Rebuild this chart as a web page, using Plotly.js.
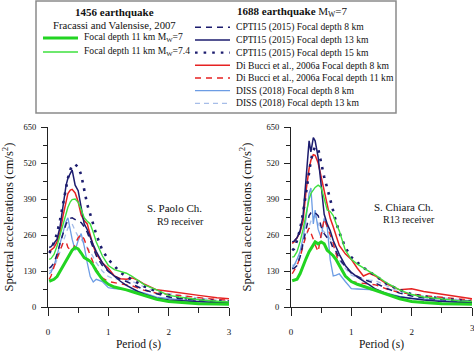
<!DOCTYPE html>
<html>
<head>
<meta charset="utf-8">
<script src="https://cdn.plot.ly/plotly-3.0.1.min.js"></script>
<style>html,body{margin:0;padding:0;background:#fff;}#chart{width:474px;height:351px;}</style>
</head>
<body>
<div id="chart"></div>
<script>
// Periods (s)
const periods = [0.02,0.05,0.1,0.15,0.2,0.25,0.3,0.33,0.37,0.4,0.45,0.5,0.55,0.6,0.65,0.7,0.75,0.8,0.9,1.0,1.1,1.2,1.3,1.4,1.5,1.6,1.8,2.0,2.2,2.5,2.8,3.0];

// S. Paolo Ch. — R9 receiver (cm/s^2)
const r9_fv_mw7   = [93,95,100,110,130,150,170,180,195,205,215,210,195,178,172,165,150,130,100,82,72,68,62,55,48,40,28,20,16,12,11,10];
const r9_fv_mw74  = [172,175,190,220,260,300,340,360,380,388,390,378,352,322,310,300,270,235,185,150,135,128,122,110,95,80,62,42,35,26,21,18];
const r9_cpti8    = [140,145,160,190,230,270,300,310,320,322,315,310,305,290,270,240,210,185,150,128,112,100,92,82,72,62,48,36,30,24,20,18];
const r9_cpti13   = [215,218,230,245,290,370,440,465,480,495,440,420,360,300,280,250,225,200,160,130,110,93,78,65,55,46,32,25,22,19,16,15];
const r9_cpti15   = [195,205,235,265,315,375,435,465,495,512,515,505,478,425,370,335,300,262,205,172,148,125,110,98,85,74,56,42,33,26,22,20];
const r9_dib8     = [200,205,215,235,270,330,385,410,422,425,412,380,332,312,300,255,220,192,160,140,112,102,100,105,95,82,62,57,52,42,33,30];
const r9_dib11    = [100,112,145,178,205,232,235,215,205,200,228,250,262,245,215,185,160,135,105,92,88,86,82,76,68,60,50,45,40,32,27,25];
const r9_diss8    = [120,125,150,185,230,270,310,322,275,245,205,240,265,220,160,110,90,100,92,70,66,65,63,60,55,50,36,30,26,20,17,15];
const r9_diss13   = [130,132,142,170,200,235,265,285,295,300,275,255,245,230,215,200,180,160,130,110,102,100,97,92,82,72,55,48,42,32,25,22];

// S. Chiara Ch. — R13 receiver (cm/s^2)
const r13_fv_mw7  = [95,97,100,120,150,175,200,210,225,235,228,235,228,205,195,185,170,152,112,92,82,75,68,60,52,45,30,20,16,12,11,10];
const r13_fv_mw74 = [180,182,200,235,280,340,390,410,425,432,440,432,392,350,345,330,300,275,205,172,155,140,128,115,100,85,62,45,36,28,22,20];
const r13_cpti8   = [138,140,150,180,230,280,330,340,345,340,330,290,265,250,240,210,200,175,145,122,110,100,92,86,76,66,50,40,33,26,22,20];
const r13_cpti13  = [235,238,250,275,330,450,600,560,612,600,540,440,335,300,275,240,215,190,150,125,108,95,80,65,55,46,36,30,25,20,17,15];
const r13_cpti15  = [205,210,240,280,340,420,500,530,565,578,572,520,470,430,385,340,305,270,215,180,160,142,128,112,95,82,62,46,38,30,24,20];
const r13_dib8    = [230,235,250,270,310,420,500,530,550,548,520,470,420,360,320,290,255,222,192,172,140,112,122,112,96,82,62,66,56,46,37,30];
const r13_dib11   = [120,130,150,180,220,260,285,270,245,225,200,262,318,290,260,230,190,152,112,92,88,86,82,80,72,64,52,46,41,35,28,25];
const r13_diss8   = [140,150,172,200,250,320,410,430,300,350,280,250,320,290,170,112,115,120,92,66,65,65,63,60,55,50,38,32,28,22,18,15];
const r13_diss13  = [150,152,160,185,220,260,290,310,325,330,300,282,272,260,245,220,195,170,140,115,106,100,97,95,85,75,55,45,40,32,26,22];

// Labels
const seriesNames = [
  'DISS (2018) Focal depth 13 km',
  'DISS (2018) Focal depth 8 km',
  'Di Bucci et al., 2006a Focal depth 11 km',
  'Di Bucci et al., 2006a Focal depth 8 km',
  'CPTI15 (2015) Focal depth 8 km',
  'CPTI15 (2015) Focal depth 13 km',
  'CPTI15 (2015) Focal depth 15 km',
  'Focal depth 11 km M<sub>W</sub>=7.4',
  'Focal depth 11 km M<sub>W</sub>=7'
];
const panelNames = ['S. Paolo Ch.', 'S. Chiara Ch.'];
const receiverNames = ['R9 receiver', 'R13 receiver'];
const xTitle = 'Period (s)';
const yTitle = 'Spectral accelerations (cm/s<sup>2</sup>)';
const yTicks = [0,130,260,390,520,650];
const xTicks = [0,1,2,3];
const legendHead1 = ['<b>1456 earthquake</b>', 'Fracassi and Valensise, 2007'];
const legendHead2 = '<b>1688 earthquake</b> M<sub>W</sub>=7';

const styles = [
  {color:'#a6bde8', width:1.3, dash:'5px,4px'},
  {color:'#6c9ce4', width:1.3, dash:'solid'},
  {color:'#e62222', width:1.4, dash:'6px,5px'},
  {color:'#e62222', width:1.5, dash:'solid'},
  {color:'#1c1c6e', width:1.5, dash:'6px,5px'},
  {color:'#1c1c6e', width:1.5, dash:'solid'},
  {color:'#1c1c6e', width:2.6, dash:'2.6px,6px'},
  {color:'#3ee03e', width:1.4, dash:'solid'},
  {color:'#22d422', width:3.0, dash:'solid'}
];

const r9 = [r9_diss13, r9_diss8, r9_dib11, r9_dib8, r9_cpti8, r9_cpti13, r9_cpti15, r9_fv_mw74, r9_fv_mw7];
const r13 = [r13_diss13, r13_diss8, r13_dib11, r13_dib8, r13_cpti8, r13_cpti13, r13_cpti15, r13_fv_mw74, r13_fv_mw7];

const traces = [];
[r9, r13].forEach((set, p) => {
  set.forEach((vals, i) => {
    traces.push({
      x: periods, y: vals, type: 'scatter', mode: 'lines',
      name: seriesNames[i], showlegend: false,
      xaxis: p === 0 ? 'x' : 'x2', yaxis: p === 0 ? 'y' : 'y2',
      line: {color: styles[i].color, width: styles[i].width, dash: styles[i].dash, shape: 'linear'},
      hoverinfo: 'skip'
    });
  });
});

const W = 474, H = 351;
const px = v => v / W;
const py = v => 1 - v / H;
const serif = '"Liberation Serif", "Times New Roman", Times, serif';
const lastX = xTicks[xTicks.length - 1];

function xaxis(dom, labels) {
  return {
    domain: dom, range: [0, 3], tickvals: xTicks, ticktext: labels,
    showgrid: false, zeroline: false, showline: true, linecolor: '#222', linewidth: 1,
    ticks: 'outside', ticklen: 8, tickwidth: 1, tickcolor: '#222',
    minor: {ticks: 'outside', dtick: 0.5, tick0: 0, ticklen: 5, tickwidth: 1, tickcolor: '#222'},
    tickfont: {family: serif, size: 9, color: '#111'}, ticklabelstandoff: 8, ticklabeloverflow: 'allow',
    title: {text: xTitle, font: {family: serif, size: 11.5, color: '#111'}, standoff: 5},
    automargin: false, fixedrange: true
  };
}
function yaxis(anchor) {
  return {
    domain: [py(307), py(127)], range: [0, 650], tickvals: yTicks, ticktext: yTicks.map(String),
    showgrid: false, zeroline: false, showline: true, linecolor: '#222', linewidth: 1,
    ticks: 'outside', ticklen: 6, tickwidth: 1, tickcolor: '#222', anchor: anchor,
    minor: {ticks: 'outside', dtick: 65, tick0: 0, ticklen: 4, tickwidth: 1, tickcolor: '#222'},
    tickfont: {family: serif, size: 8.5, color: '#111'}, ticklabelstandoff: 3,
    title: {text: yTitle, font: {family: serif, size: 12.5, color: '#111'}, standoff: 12},
    automargin: false, fixedrange: true
  };
}

const shapes = [];
const annotations = [];
shapes.push({type: 'rect', xref: 'paper', yref: 'paper', x0: px(36), x1: px(396), y0: py(113), y1: py(1),
  line: {color: '#8a8a8a', width: 1.5}, fillcolor: 'rgba(0,0,0,0)'});
annotations.push({xref:'paper', yref:'paper', x: px(114), y: py(12), text: legendHead1[0], showarrow:false,
  xanchor:'center', yanchor:'middle', font:{family:serif, size:11, color:'#111'}});
annotations.push({xref:'paper', yref:'paper', x: px(114), y: py(24.5), text: legendHead1[1], showarrow:false,
  xanchor:'center', yanchor:'middle', font:{family:serif, size:10.7, color:'#111'}});
annotations.push({xref:'paper', yref:'paper', x: px(292), y: py(12), text: legendHead2, showarrow:false,
  xanchor:'center', yanchor:'middle', font:{family:serif, size:11, color:'#111'}});

const leftItems = [8, 7];
leftItems.forEach((si, k) => {
  const yy = 38 + k * 14;
  shapes.push({type:'line', xref:'paper', yref:'paper', x0: px(43), x1: px(78), y0: py(yy), y1: py(yy),
    line:{color: styles[si].color, width: styles[si].width, dash: styles[si].dash}});
  annotations.push({xref:'paper', yref:'paper', x: px(82), y: py(yy - 1), text: seriesNames[si], showarrow:false,
    xanchor:'left', yanchor:'middle', font:{family:serif, size:9.6, color:'#111'}});
});
const rightItems = [4, 5, 6, 3, 2, 1, 0];
rightItems.forEach((si, k) => {
  const yy = 27.3 + k * 12.67;
  shapes.push({type:'line', xref:'paper', yref:'paper', x0: px(195), x1: px(230), y0: py(yy), y1: py(yy),
    line:{color: styles[si].color, width: Math.min(styles[si].width, 2.2), dash: styles[si].dash}});
  annotations.push({xref:'paper', yref:'paper', x: px(234), y: py(yy), text: seriesNames[si], showarrow:false,
    xanchor:'left', yanchor:'middle', font:{family:serif, size:9.6, color:'#111'}});
});

annotations.push({xref:'paper', yref:'paper', x: px(174), y: py(208), text: panelNames[0], showarrow:false,
  xanchor:'center', yanchor:'middle', font:{family:serif, size:11, color:'#111'}});
annotations.push({xref:'paper', yref:'paper', x: px(180), y: py(221), text: receiverNames[0], showarrow:false,
  xanchor:'center', yanchor:'middle', font:{family:serif, size:10, color:'#111'}});
annotations.push({xref:'paper', yref:'paper', x: px(404), y: py(207), text: panelNames[1], showarrow:false,
  xanchor:'center', yanchor:'middle', font:{family:serif, size:11, color:'#111'}});
annotations.push({xref:'paper', yref:'paper', x: px(409), y: py(220), text: receiverNames[1], showarrow:false,
  xanchor:'center', yanchor:'middle', font:{family:serif, size:10, color:'#111'}});
// last tick label of the right panel sits at the page edge (Plotly drops it), so draw it at x = 3 on x2
annotations.push({xref:'x2', yref:'paper', x: lastX, y: py(328), text: String(lastX),
  showarrow:false, xanchor:'center', yanchor:'middle', font:{family:serif, size:9, color:'#111'}});

const layout = {
  width: W, height: H, margin: {l:0, r:0, t:0, b:0}, showlegend: false,
  paper_bgcolor: '#fff', plot_bgcolor: 'rgba(0,0,0,0)',
  font: {family: serif, color: '#111'},
  xaxis: Object.assign(xaxis([px(48), px(229)], xTicks.map(String)), {anchor: 'y'}),
  yaxis: yaxis('x'),
  xaxis2: Object.assign(xaxis([px(291), px(472)], xTicks.map(v => v === lastX ? '' : String(v))), {anchor: 'y2'}),
  yaxis2: yaxis('x2'),
  shapes: shapes, annotations: annotations
};

Plotly.newPlot('chart', traces, layout, {staticPlot: true, displayModeBar: false});
</script>
</body>
</html>
